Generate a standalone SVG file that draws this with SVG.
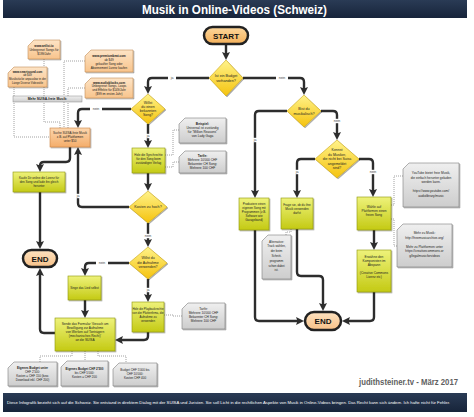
<svg xmlns="http://www.w3.org/2000/svg" width="474" height="417" viewBox="0 0 474 417">
<defs>
<linearGradient id="gGreen" x1="0" y1="0" x2="0" y2="1"><stop offset="0" stop-color="#eef27a"/><stop offset="1" stop-color="#c4ca14"/></linearGradient>
<linearGradient id="gDia" x1="0" y1="0" x2="0" y2="1"><stop offset="0" stop-color="#fff38a"/><stop offset="1" stop-color="#f5c30f"/></linearGradient>
<linearGradient id="gStart" x1="0" y1="0" x2="0" y2="1"><stop offset="0" stop-color="#fcd79c"/><stop offset="1" stop-color="#f4b05a"/></linearGradient>
<linearGradient id="gEnd" x1="0" y1="0" x2="0" y2="1"><stop offset="0" stop-color="#fde2c0"/><stop offset="1" stop-color="#f7c188"/></linearGradient>
<linearGradient id="gOr" x1="0" y1="0" x2="0" y2="1"><stop offset="0" stop-color="#fde4c6"/><stop offset="1" stop-color="#f8c48c"/></linearGradient>
<linearGradient id="gOrBox" x1="0" y1="0" x2="0" y2="1"><stop offset="0" stop-color="#fcd6ae"/><stop offset="1" stop-color="#f4ad6a"/></linearGradient>
<linearGradient id="gGr" x1="0" y1="0" x2="0" y2="1"><stop offset="0" stop-color="#efefef"/><stop offset="1" stop-color="#cdcdcd"/></linearGradient>
<linearGradient id="gBar" x1="0" y1="0" x2="0" y2="1"><stop offset="0" stop-color="#2a3b55"/><stop offset="1" stop-color="#17243a"/></linearGradient>
<filter id="sh" x="-20%" y="-20%" width="150%" height="150%"><feDropShadow dx="1" dy="1" stdDeviation="0.7" flood-color="#000" flood-opacity="0.35"/></filter>
<marker id="arr" viewBox="0 0 8 8" refX="2" refY="4" markerWidth="8" markerHeight="8" markerUnits="userSpaceOnUse" orient="auto"><path d="M0,0 L8,4 L0,8 L1.5,4 z" fill="#2d2d2d"/></marker>
<style>
.ln{fill:none;stroke:#2d2d2d;stroke-width:2.4;marker-end:url(#arr)}
.dot{fill:none;stroke:#8a8a8a;stroke-width:0.8;stroke-dasharray:1 1}
.gb{fill:url(#gGreen);stroke:#8c9410;stroke-width:0.6;filter:url(#sh)}
.dm{fill:url(#gDia);stroke:#c9a416;stroke-width:0.6;filter:url(#sh)}
.st{fill:url(#gStart);stroke:#222;stroke-width:2.5}
.en{fill:url(#gEnd);stroke:#222;stroke-width:2.5}
.on{fill:url(#gOr);stroke:#c28d57;stroke-width:0.6;filter:url(#sh)}
.ob{fill:url(#gOrBox);stroke:#c98343;stroke-width:0.6;filter:url(#sh)}
.gn{fill:url(#gGr);stroke:#7d7d7d;stroke-width:0.6;filter:url(#sh)}
.lbg{fill:#fff}
text{font-family:"Liberation Sans",Arial,sans-serif;text-anchor:middle;fill:#222}
.t{font-size:3.2px}
.ts{font-size:3px}
.td{font-size:3.7px}
.lb{font-size:3.5px;fill:#444}
.term{font-size:8px;font-weight:bold;fill:#111}
.b{font-weight:bold}
</style>
</defs>
<rect width="474" height="417" fill="#fff"/>

<g id="title">
<rect x="3" y="0" width="464" height="18" fill="url(#gBar)"/>
<text x="234.5" y="14" font-size="12" font-weight="bold" fill="#fff" style="fill:#fff" textLength="185" lengthAdjust="spacingAndGlyphs">Musik in Online-Videos (Schweiz)</text>
</g>

<g id="connectors">
<path class="ln" d="M226,44 V54"/>
<path class="ln" d="M209,78 H152 Q148,78 148,82 V88"/>
<path class="ln" d="M243,78 H300 Q304,78 304,82 V89"/>
<path class="ln" d="M131,109 H82 Q78,109 78,113 V122"/>
<path class="ln" d="M148,124 V142"/>
<path class="ln" d="M148,173 V185"/>
<path class="ln" d="M129,207 H82 Q78,207 78,203 V153"/>
<path class="ln" d="M70,147 V158 Q70,162 66,162 H44 Q40,162 40,166"/>
<path class="ln" d="M40,192 V243"/>
<path class="ln" d="M148,223 V241"/>
<path class="ln" d="M129,263 H89 Q85,263 85,267 V270"/>
<path class="ln" d="M148,279 V296"/>
<path class="ln" d="M85,300 V312"/>
<path class="ln" d="M148,332 V336 Q148,340 144,340 H121"/>
<path class="ln" d="M55,333 H44 Q40,333 40,329 V274"/>
<path class="ln" d="M287,111 H259 Q255,111 255,115 V192"/>
<path class="ln" d="M321,111 H333 Q337,111 337,115 V134"/>
<path class="ln" d="M315,159 H301 Q297,159 297,163 V192"/>
<path class="ln" d="M359,159 H369 Q373,159 373,163 V191"/>
<path class="ln" d="M255,230 V317 Q255,321 259,321 H298"/>
<path class="ln" d="M297,229 V272 Q297,276 301,276 H319 Q323,276 323,280 V305"/>
<path class="ln" d="M374,230 V244"/>
<path class="ln" d="M374,292 V317 Q374,321 370,321 H348"/>

<path class="dot" d="M44,59 V122 H60 V128"/>
<path class="dot" d="M85,61 H64 V128"/>
<path class="dot" d="M85,88 H68 V128"/>
<path class="dot" d="M14,87 V137 H50"/>
<path class="dot" d="M165,155 H173 V130 H179"/>
<path class="dot" d="M165,167 H173 V162 H179"/>
<path class="dot" d="M164,315 H173 V316 H182"/>
<path class="dot" d="M72,351 V356 H40 V362"/>
<path class="dot" d="M85,351 V361"/>
<path class="dot" d="M98,351 V356 H126 V363"/>
<path class="dot" d="M291,229 V232 H286 V235"/>
<path class="dot" d="M403,176 H394 V205 H391"/>
<path class="dot" d="M391,219 H394 V246 H397"/>

<g id="labels">
<rect class="lbg" x="168" y="75.8" width="8" height="4.4"/><text class="lb" x="172" y="79.2">ja</text>
<rect class="lbg" x="276" y="75.8" width="12" height="4.4"/><text class="lb" x="282" y="79.2">nein</text>
<rect class="lbg" x="90" y="106.8" width="12" height="4.4"/><text class="lb" x="96" y="110.2">nein</text>
<rect class="lbg" x="145" y="133.8" width="6" height="4.4"/><text class="lb" x="148" y="137.2">ja</text>
<rect class="lbg" x="75" y="193.8" width="6" height="4.4"/><text class="lb" x="78" y="197.2">ja</text>
<rect class="lbg" x="142" y="233.8" width="12" height="4.4"/><text class="lb" x="148" y="237.2">nein</text>
<rect class="lbg" x="96" y="260.8" width="12" height="4.4"/><text class="lb" x="102" y="264.2">nein</text>
<rect class="lbg" x="145" y="287.8" width="6" height="4.4"/><text class="lb" x="148" y="291.2">ja</text>
<rect class="lbg" x="252" y="137.8" width="6" height="4.4"/><text class="lb" x="255" y="141.2">ja</text>
<rect class="lbg" x="331" y="118.8" width="12" height="4.4"/><text class="lb" x="337" y="122.2">nein</text>
<rect class="lbg" x="294" y="169.8" width="6" height="4.4"/><text class="lb" x="297" y="173.2">ja</text>
<rect class="lbg" x="367" y="169.8" width="12" height="4.4"/><text class="lb" x="373" y="173.2">nein</text>
</g>
</g>

<g id="start"><rect class="st" x="204" y="27" width="44" height="17" rx="8.5"/><text class="term" x="226" y="38.5">START</text></g>
<g id="end1"><rect class="en" x="23" y="250" width="34" height="17" rx="8.5"/><text class="term" x="40" y="261.5">END</text></g>
<g id="end2"><rect class="en" x="305" y="312" width="36" height="18" rx="9"/><text class="term" x="323" y="324">END</text></g>

<g id="d-budget"><polygon class="dm" points="226,60 243,78 226,96 209,78"/><text class="td"><tspan x="226" y="77">Ist ein Budget</tspan><tspan x="226" y="81.5">vorhanden?</tspan></text></g>
<g id="d-bekannt"><polygon class="dm" points="148,94 165,109 148,124 131,109"/><text class="td" style="font-size:3.5px"><tspan x="148" y="103.5">Willst</tspan><tspan x="148" y="107.5">du einen</tspan><tspan x="148" y="111.5">bekannten</tspan><tspan x="148" y="115.5">Song?</tspan></text></g>
<g id="d-musikalisch"><polygon class="dm" points="304,95 321,111 304,127 287,111"/><text class="td"><tspan x="304" y="110">Bist du</tspan><tspan x="304" y="114.5">musikalisch?</tspan></text></g>
<g id="d-kosten"><polygon class="dm" points="148,191 167,207 148,223 129,207"/><text class="td"><tspan x="148" y="208.3">Kosten zu hoch?</tspan></text></g>
<g id="d-aufnahme"><polygon class="dm" points="148,247 167,263 148,279 129,263"/><text class="td" style="font-size:3.5px"><tspan x="148" y="259">Willst du</tspan><tspan x="148" y="263.5">die Aufnahme</tspan><tspan x="148" y="268">verwenden?</tspan></text></g>
<g id="d-musiker"><polygon class="dm" points="337,140 359,159 337,178 315,159"/><text class="td" style="font-size:3.5px"><tspan x="337" y="151">Kennst</tspan><tspan x="337" y="155.5">du Musiker,</tspan><tspan x="337" y="160">die nicht bei Suisa</tspan><tspan x="337" y="164.5">angemeldet</tspan><tspan x="337" y="169">sind?</tspan></text></g>

<g id="b-suche"><rect class="ob" x="50" y="128" width="40" height="19"/><text class="ts"><tspan x="70" y="134">Suche SUISA-freie Musik</tspan><tspan x="70" y="138">z.B. auf Plattformen</tspan><tspan x="70" y="142">unter $50</tspan></text></g>
<g id="b-sync"><rect class="gb" x="132" y="148" width="33" height="25"/><text class="ts"><tspan x="148.5" y="156">Hole die Synchrechte</tspan><tspan x="148.5" y="160">für den Song beim</tspan><tspan x="148.5" y="164">zuständigen Verlag</tspan></text></g>
<g id="b-kaufe"><rect class="gb" x="13" y="172" width="52" height="20"/><text class="ts"><tspan x="39" y="178.5">Kaufe Dir online die Lizenz für</tspan><tspan x="39" y="182.5">den Song und lade ihn gleich</tspan><tspan x="39" y="186.5">herunter</tspan></text></g>
<g id="b-singe"><rect class="gb" x="68" y="276" width="33" height="24"/><text class="ts"><tspan x="84.5" y="289">Singe das Lied selbst</tspan></text></g>
<g id="b-formular"><rect class="gb" x="55" y="318" width="60" height="33"/><text class="t"><tspan x="85" y="325">Sende das Formular 'Gesuch um</tspan><tspan x="85" y="329">Bewilligung zur Aufnahme</tspan><tspan x="85" y="333">von Werken auf Tonträgern</tspan><tspan x="85" y="337">(mechanisches Recht)'</tspan><tspan x="85" y="341">an die SUISA</tspan></text></g>
<g id="b-playback"><rect class="gb" x="132" y="302" width="32" height="30"/><text class="ts" style="font-size:2.9px"><tspan x="148" y="309.5">Hole die Playbackrechte</tspan><tspan x="148" y="313.5">von der Plattenfirma, die</tspan><tspan x="148" y="317.5">Aufnahme zu</tspan><tspan x="148" y="321.5">verwenden</tspan></text></g>
<g id="b-produziere"><rect class="gb" x="239" y="198" width="30" height="32"/><text class="ts"><tspan x="254" y="205">Produziere einen</tspan><tspan x="254" y="209">eigenen Song mit</tspan><tspan x="254" y="213">Programmen (z.B.</tspan><tspan x="254" y="217">Software wie</tspan><tspan x="254" y="221">Garageband)</tspan></text></g>
<g id="b-frage"><rect class="gb" x="281" y="198" width="32" height="31"/><text class="ts"><tspan x="297" y="206">Frage sie, ob du ihre</tspan><tspan x="297" y="210">Musik verwenden</tspan><tspan x="297" y="214">darfst</tspan></text></g>
<g id="b-waehle"><rect class="gb" x="357" y="197" width="34" height="33"/><text class="t"><tspan x="374" y="208">Wähle auf</tspan><tspan x="374" y="212">Plattformen einen</tspan><tspan x="374" y="216">freien Song</tspan></text></g>
<g id="b-erwaehne"><rect class="gb" x="357" y="250" width="34" height="42"/><text class="t"><tspan x="374" y="258">Erwähne den</tspan><tspan x="374" y="262">Komponisten im</tspan><tspan x="374" y="266">Abspann</tspan><tspan x="374" y="274">(Creative Commons</tspan><tspan x="374" y="278">Lizenz etc)</tspan></text></g>

<g id="n-artlist"><path class="on" d="M34,40 H60 V59 H28 V46 Z"/><text class="ts"><tspan x="44" y="46.5" class="b">www.artlist.io</tspan><tspan x="44" y="50.5">Unbegrenzt Songs für</tspan><tspan x="44" y="54.5">$199/Jahr</tspan></text></g>
<g id="n-premiumbeat"><path class="on" d="M91,50 H133 V72 H85 V56 Z"/><text class="ts"><tspan x="109" y="56.5" class="b">www.premiumbeat.com</tspan><tspan x="109" y="60.5">ab $49</tspan><tspan x="109" y="64.5">gekaufter Song oder</tspan><tspan x="109" y="68.5">Abonnement Lizenz kaufen</tspan></text></g>
<g id="n-smartsound"><path class="on" d="M14,67 H47 V87 H8 V73 Z"/><text class="ts" style="font-size:2.8px"><tspan x="27.5" y="72.5" class="b">www.smartsound.com</tspan><tspan x="27.5" y="76.2">ab $49</tspan><tspan x="27.5" y="79.9">Musikstücke anpassbar in der</tspan><tspan x="27.5" y="83.6">Länge Diverse Videostile</tspan></text></g>
<g id="n-audioblocks"><path class="on" d="M91,78 H133 V98 H85 V84 Z"/><text class="ts"><tspan x="109" y="83.5" class="b">www.audioblocks.com</tspan><tspan x="109" y="87.3">Unbegrenzt Songs, Loops</tspan><tspan x="109" y="91.1">und Effekte für $149/Jahr</tspan><tspan x="109" y="94.9">($99 im ersten Jahr)</tspan></text></g>
<g id="n-mehr-suisa"><rect x="13" y="96" width="69" height="6" fill="url(#gGr)" stroke="#8a8a8a" stroke-width="0.5"/><text class="b" x="47.5" y="100.3" style="font-size:3.4px">Mehr SUISA-freie Musik:</text></g>

<g id="n-universal"><path class="gn" d="M185,118 H226 V143 H179 V124 Z"/><text class="t"><tspan x="202.5" y="124.5" class="b">Beispiel:</tspan><tspan x="202.5" y="128.5">Universal ist zuständig</tspan><tspan x="202.5" y="132.5">für "Million Reasons"</tspan><tspan x="202.5" y="136.5">von Lady Gaga</tspan></text></g>
<g id="n-tarife1"><path class="gn" d="M185,151 H226 V173 H179 V157 Z"/><text class="t"><tspan x="202.5" y="156.5" class="b">Tarife:</tspan><tspan x="202.5" y="160.5">Mehrere 10'000 CHF</tspan><tspan x="202.5" y="164.5">Bekannter CH Song:</tspan><tspan x="202.5" y="168.5">Mehrere 100 CHF</tspan></text></g>
<g id="n-tarife2"><path class="gn" d="M188,303 H225 V329 H182 V309 Z"/><text class="t"><tspan x="203.5" y="310">Tarife:</tspan><tspan x="203.5" y="314">Mehrere 10'000 CHF</tspan><tspan x="203.5" y="318">Bekannter CH Song:</tspan><tspan x="203.5" y="322">Mehrere 100 CHF</tspan></text></g>
<g id="n-budget1"><path class="gn" d="M14,362 H57 V386 H8 V368 Z"/><text class="ts"><tspan x="32.5" y="369" class="b">Eigenes Budget unter</tspan><tspan x="32.5" y="373">CHF 2'500:</tspan><tspan x="32.5" y="377">Kosten = CHF 150 (bzw.</tspan><tspan x="32.5" y="381">Download inkl. CHF 200)</tspan></text></g>
<g id="n-budget2"><path class="gn" d="M67,361 H108 V386 H61 V367 Z"/><text class="ts"><tspan x="84.5" y="369.5" class="b">Eigenes Budget CHF 2'500</tspan><tspan x="84.5" y="373.5">bis CHF 5'000:</tspan><tspan x="84.5" y="377.5">Kosten = CHF 200</tspan></text></g>
<g id="n-budget3"><path class="gn" d="M119,363 H157 V386 H113 V369 Z"/><text class="ts"><tspan x="135" y="371">Budget CHF 5'000 bis</tspan><tspan x="135" y="375">CHF 10'000:</tspan><tspan x="135" y="379">Kosten CHF 400</tspan></text></g>
<g id="n-alternative"><path class="gn" d="M268,235 H291 V279 H262 V241 Z"/><text class="ts"><tspan x="276.5" y="242.5">Alternative:</tspan><tspan x="276.5" y="247.3">Track wählen,</tspan><tspan x="276.5" y="252.1">der beim</tspan><tspan x="276.5" y="256.9">Schnitt-</tspan><tspan x="276.5" y="261.7">programm</tspan><tspan x="276.5" y="266.5">schon dabei</tspan><tspan x="276.5" y="271.3">ist.</tspan></text></g>
<g id="n-youtube"><path class="gn" d="M409,163 H459 V207 H403 V169 Z"/><text class="t"><tspan x="431" y="174">YouTube bietet freie Musik,</tspan><tspan x="431" y="178.5">die einfach herunter geladen</tspan><tspan x="431" y="183">werden kann.</tspan><tspan x="431" y="192">https://www.youtube.com/</tspan><tspan x="431" y="196.5">audiolibrary/music</tspan></text></g>
<g id="n-mehr-musik"><path class="gn" d="M403,224 H452 V267 H397 V230 Z"/><text class="t"><tspan x="424.5" y="234">Mehr zu Musik:</tspan><tspan x="424.5" y="238.5">http://freemusicarchive.org/</tspan><tspan x="424.5" y="247.5">Mehr zu Plattformen unter</tspan><tspan x="424.5" y="252">https://creativecommons.or</tspan><tspan x="424.5" y="256.5">g/legalmusicforvideos</tspan></text></g>

<g id="credit"><text x="359" y="385" style="text-anchor:start;font-size:9px;font-weight:bold;fill:#5f5f5f" textLength="99" lengthAdjust="spacingAndGlyphs">judithsteiner.tv - März 2017</text></g>
<g id="footer">
<rect x="3" y="393" width="464" height="19" fill="url(#gBar)"/>
<text x="7" y="404" style="text-anchor:start;font-size:3.9px;fill:#fff" textLength="443" lengthAdjust="spacingAndGlyphs">Diese Infografik bezieht sich auf die Schweiz. Sie entstand in direktem Dialog mit der SUISA und Juristen. Sie soll Licht in die rechtlichen Aspekte von Musik in Online-Videos bringen. Das Recht kann sich ändern. Ich hafte nicht für Fehler.</text>
</g>
</svg>
